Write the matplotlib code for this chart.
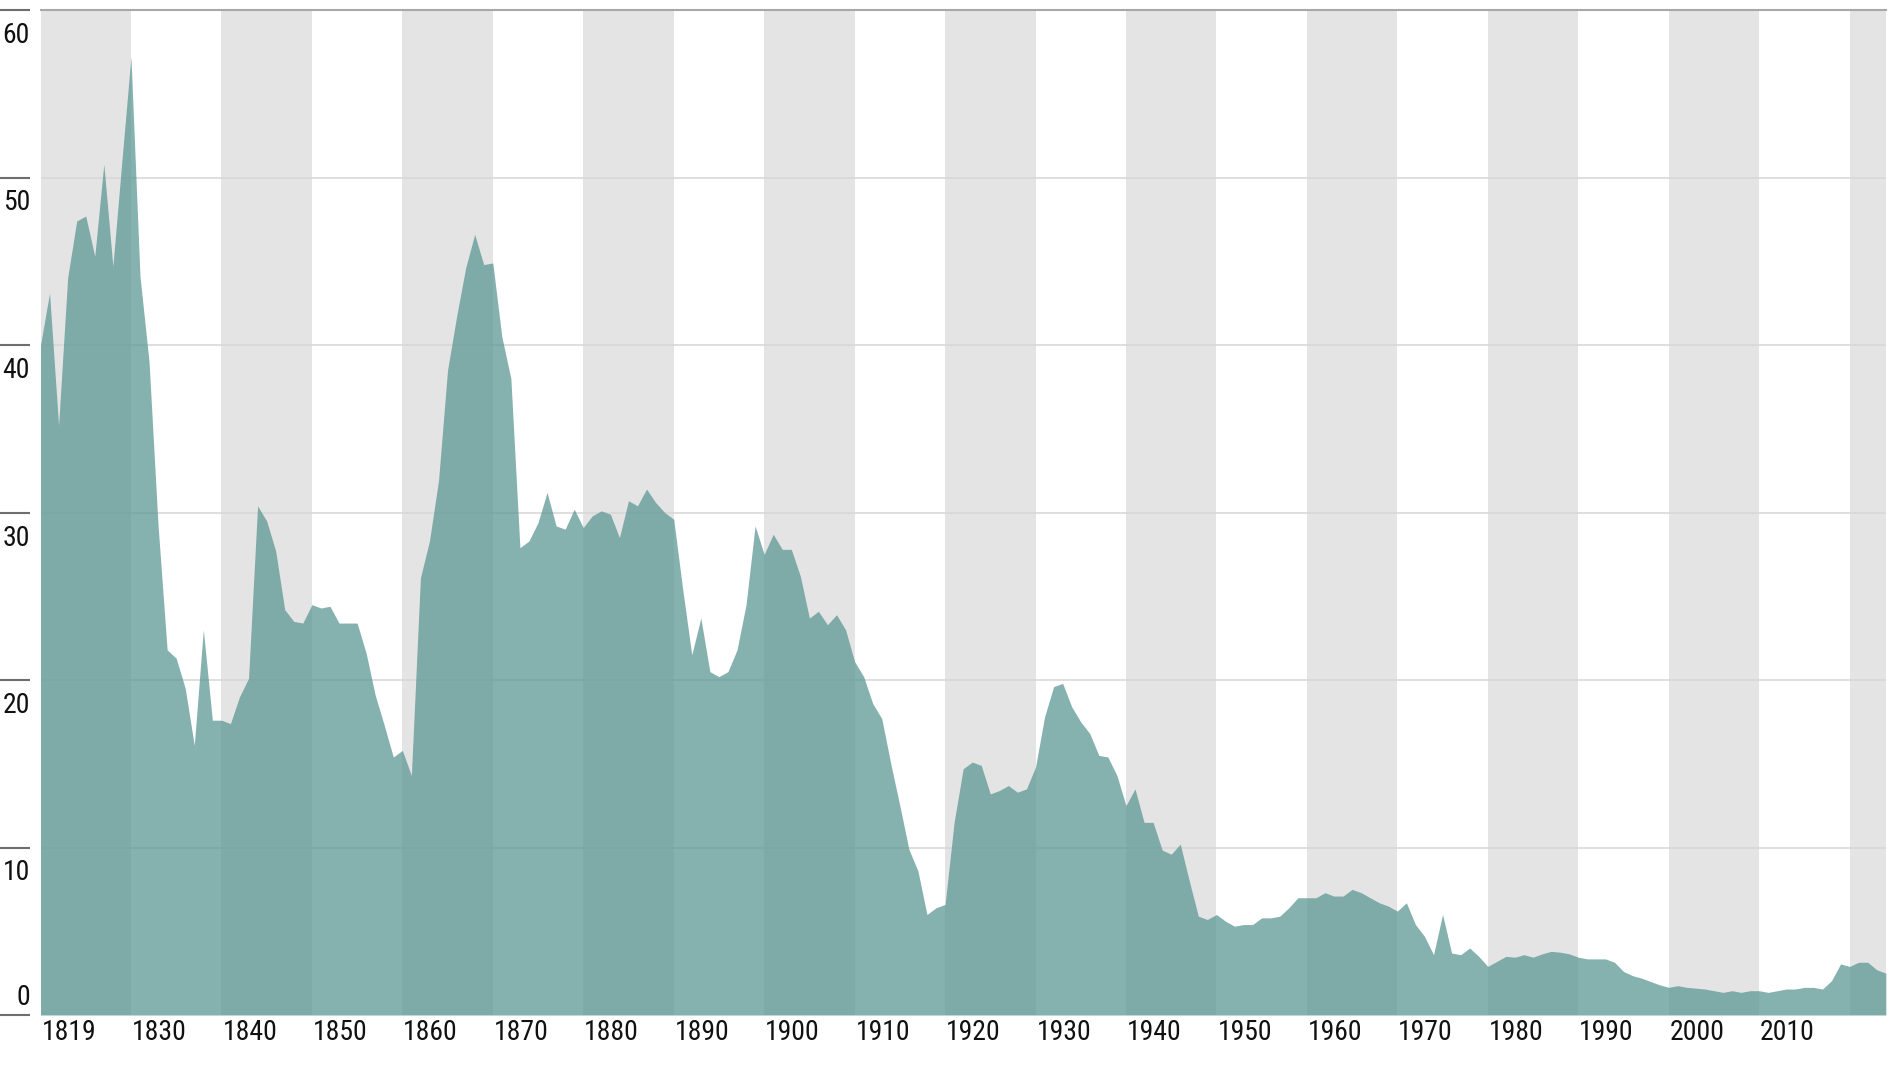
import numpy as np
import matplotlib
matplotlib.use("Agg")
import matplotlib.pyplot as plt
import matplotlib.transforms as mtransforms
from matplotlib import font_manager as fm

# yearly values, 1819-2023
years = np.arange(1819, 2024)
values = [
    40.0, 43.1, 35.2, 44.0, 47.4, 47.7, 45.3, 50.8, 44.7, 51.0,   # 1819-1828
    57.2, 44.1, 39.0, 29.2, 21.8, 21.3, 19.5, 16.1, 23.0, 17.6,   # 1829-1838
    17.6, 17.4, 19.0, 20.1, 30.4, 29.5, 27.7, 24.2, 23.5, 23.4,   # 1839-1848
    24.5, 24.3, 24.4, 23.4, 23.4, 23.4, 21.6, 19.1, 17.3, 15.4,   # 1849-1858
    15.8, 14.3, 26.1, 28.3, 31.9, 38.5, 41.7, 44.6, 46.6, 44.8,   # 1859-1868
    44.9, 40.5, 38.0, 27.9, 28.3, 29.4, 31.2, 29.2, 29.0, 30.2,   # 1869-1878
    29.1, 29.8, 30.1, 29.9, 28.5, 30.7, 30.4, 31.4, 30.6, 30.0,   # 1879-1888
    29.6, 25.4, 21.5, 23.7, 20.5, 20.2, 20.5, 21.8, 24.5, 29.2,   # 1889-1898
    27.5, 28.7, 27.8, 27.8, 26.2, 23.7, 24.1, 23.3, 23.9, 23.0,   # 1899-1908
    21.1, 20.2, 18.6, 17.7, 15.0, 12.5, 9.9, 8.6, 6.0, 6.4,       # 1909-1918
    6.6, 11.5, 14.7, 15.1, 14.9, 13.2, 13.4, 13.7, 13.3, 13.5,    # 1919-1928
    14.8, 17.8, 19.6, 19.8, 18.4, 17.5, 16.8, 15.5, 15.4, 14.3,   # 1929-1938
    12.5, 13.5, 11.5, 11.5, 9.85, 9.6, 10.2, 8.0, 5.9, 5.7,       # 1939-1948
    6.0, 5.6, 5.3, 5.4, 5.4, 5.8, 5.8, 5.9, 6.4, 7.0,             # 1949-1958
    7.0, 7.0, 7.3, 7.1, 7.1, 7.5, 7.3, 7.0, 6.7, 6.5,             # 1959-1968
    6.2, 6.7, 5.4, 4.7, 3.6, 6.0, 3.7, 3.6, 4.0, 3.5,             # 1969-1978
    2.9, 3.2, 3.5, 3.45, 3.6, 3.45, 3.65, 3.8, 3.75, 3.65,        # 1979-1988
    3.45, 3.35, 3.35, 3.35, 3.15, 2.6, 2.35, 2.2, 2.0, 1.8,       # 1989-1998
    1.65, 1.75, 1.65, 1.6, 1.55, 1.45, 1.35, 1.45, 1.35, 1.45,    # 1999-2008
    1.45, 1.35, 1.45, 1.55, 1.55, 1.65, 1.65, 1.55, 2.05, 3.05,   # 2009-2018
    2.9, 3.15, 3.15, 2.7, 2.5,                                    # 2019-2023
]

ytick_vals = [0, 10, 20, 30, 40, 50, 60]
xtick_pos = [1819] + list(range(1829, 2010, 10))
xtick_labels = ["1819", "1830", "1840", "1850", "1860", "1870", "1880",
                "1890", "1900", "1910", "1920", "1930", "1940", "1950",
                "1960", "1970", "1980", "1990", "2000", "2010"]


def pick_font():
    # look for a narrow face, the reference uses a condensed sans
    prefs = [("Liberation Sans Narrow", None, 20.5),
             ("Roboto Condensed", None, 20),
             ("Roboto", "condensed", 20),
             ("Noto Sans", "condensed", 20),
             ("Open Sans", "condensed", 19.5),
             ("DejaVu Sans", "condensed", 19)]
    for name, stretch, size in prefs:
        for f in fm.fontManager.ttflist:
            if f.name != name or f.style != "normal":
                continue
            if str(f.weight) not in ("400", "normal", "regular"):
                continue
            if stretch is not None and f.stretch not in ("condensed", "semi-condensed"):
                continue
            return fm.FontProperties(fname=f.fname, size=size)
    return fm.FontProperties(family="DejaVu Sans", size=17)


font = pick_font()

W, H = 1896, 1066
fig = plt.figure(figsize=(W / 100, H / 100), dpi=100)
ax = fig.add_axes([40.5 / W, (H - 1015) / H, (1885.8 - 40.5) / W, (1015 - 10) / H])

# alternating decade bands
for start in range(1819, 2024, 20):
    ax.axvspan(start, min(start + 10, 2023), color="#e4e4e4", lw=0, zorder=0)

for v in ytick_vals[1:-1]:
    ax.axhline(v, color="#d6d6d6", lw=1.1, zorder=1)
ax.axhline(60, color="#a8a8a8", lw=1.5, zorder=3, clip_on=False)

ax.fill_between(years, values, 0, color="#5b9694", alpha=0.74, lw=0, zorder=2)

ax.set_xlim(1819, 2023)
ax.set_ylim(0, 60)
for s in ax.spines.values():
    s.set_visible(False)
ax.set_yticks([])
ax.set_xticks([])

# x labels, left aligned at their position
xtrans = mtransforms.blended_transform_factory(ax.transData, ax.transAxes)
xdown = mtransforms.ScaledTranslation(0.01, -0.245, fig.dpi_scale_trans)
for pos, lab in zip(xtick_pos, xtick_labels):
    ax.text(pos, 0, lab, transform=xtrans + xdown, ha="left", va="baseline",
            fontproperties=font, color="#111111", clip_on=False)

# y ticks sit outside the plot, labels under the line
trans = mtransforms.blended_transform_factory(fig.transFigure, ax.transData)
down = mtransforms.ScaledTranslation(0, -0.33, fig.dpi_scale_trans)
up = mtransforms.ScaledTranslation(0, 0.10, fig.dpi_scale_trans)
for v in ytick_vals:
    ax.plot([0, 30 / W], [v, v], transform=trans, color="#6e6e6e", lw=1.5,
            clip_on=False, solid_capstyle="butt")
    off = up if v == 0 else down
    ax.text(30 / W, v, str(v), transform=trans + off, ha="right",
            va="baseline", fontproperties=font, color="#111111")

fig.savefig("out.png", dpi=100)
